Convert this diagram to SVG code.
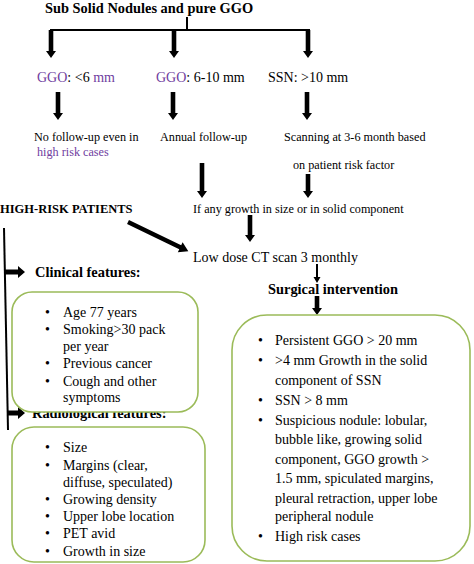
<svg xmlns="http://www.w3.org/2000/svg" width="474" height="564" viewBox="0 0 474 564">
<defs>
<style>
text{font-family:"Liberation Serif","Times New Roman",serif;fill:#000}
.b{font-weight:bold;font-size:14.4px}
.n{font-size:14px}
.s{font-size:12.2px}
.p{fill:#7040a0}
.box{fill:#fff;stroke:#9bbb59;stroke-width:1.6}
.ln{stroke:#000;stroke-width:2;fill:none}
.ar{fill:#000}
</style>
</defs>
<rect width="474" height="564" fill="#fff"/>

<g id="connectors">
<path class="ln" d="M187,17 V30 M50,30 H310"/>
<polygon class="ar" points="48.7,30 53.3,30 53.3,51 56,51 51,58 46,51 48.7,51"/>
<polygon class="ar" points="171.7,30 176.3,30 176.3,51 179,51 174,58 169,51 171.7,51"/>
<polygon class="ar" points="305.7,30 310.3,30 310.3,51 313,51 308,58 303,51 305.7,51"/>
<polygon class="ar" points="55.7,92 60.3,92 60.3,113 63,113 58,120 53,113 55.7,113"/>
<polygon class="ar" points="170.7,92 175.3,92 175.3,113 178,113 173,120 168,113 170.7,113"/>
<polygon class="ar" points="304.7,92 309.3,92 309.3,113 312,113 307,120 302,113 304.7,113"/>
<polygon class="ar" points="199.7,163 204.3,163 204.3,191 207,191 202,198 197,191 199.7,191"/>
<polygon class="ar" points="305.7,174 310.3,174 310.3,191 313,191 308,198 303,191 305.7,191"/>
<polygon class="ar" points="247.7,215 252.3,215 252.3,235 255,235 250,242 245,235 247.7,235"/>
<polygon class="ar" points="316,264 318,264 318,277 320.5,277 317,283 313.5,277 316,277"/>
<polygon class="ar" points="314.7,296 319.3,296 319.3,308 322,308 317,315 312,308 314.7,308"/>
<g transform="translate(128,222) rotate(25.8)">
<polygon class="ar" points="0,-2.2 58,-2.2 58,-5.5 67,0 58,5.5 58,2.2 0,2.2"/>
</g>
<line x1="4" y1="228" x2="8" y2="430" stroke="#000" stroke-width="2"/>
<polygon class="ar" points="5,269.5 18,269.5 18,266 25,272 18,278 18,274.5 5,274.5"/>
<polygon class="ar" points="7,410.5 18,410.5 18,407 25,413 18,419 18,415.5 7,415.5"/>
</g>

<g id="title"><text class="b" x="45" y="13">Sub Solid Nodules and pure GGO</text></g>

<g id="ggo-small"><text class="n" x="37" y="82"><tspan class="p">GGO</tspan>: &lt;6 <tspan class="p">mm</tspan></text></g>
<g id="ggo-mid"><text class="n" x="156" y="82"><tspan class="p">GGO</tspan>: 6-10 mm</text></g>
<g id="ssn"><text class="n" x="268" y="82">SSN:  &gt;10 mm</text></g>

<g id="no-followup">
<text class="s" x="34" y="141">No follow-up even in</text>
<text class="s p" x="37" y="156">high risk cases</text>
</g>
<g id="annual"><text class="s" x="160" y="141">Annual follow-up</text></g>
<g id="scanning">
<text class="s" x="284" y="141">Scanning at 3-6 month based</text>
<text class="s" x="293" y="169">on patient risk factor</text>
</g>

<g id="growth"><text class="s" x="193" y="213">If any growth in size or in solid component</text></g>
<g id="high-risk"><text class="b" x="0" y="213" style="font-size:12.5px">HIGH-RISK PATIENTS</text></g>
<g id="low-dose"><text class="n" x="193" y="262">Low dose CT scan 3 monthly</text></g>
<g id="surgical"><text class="b" x="268" y="294">Surgical intervention</text></g>

<g id="clinical-label"><text class="b" x="35" y="277">Clinical features:</text></g>
<g id="radiological-label"><text class="b" x="32" y="418">Radiological features:</text></g>

<g id="clinical-box">
<rect class="box" x="12" y="292" width="186" height="120" rx="20"/>
<text class="n" x="45" y="317">•</text><text class="n" x="63" y="317">Age 77 years</text>
<text class="n" x="45" y="334">•</text><text class="n" x="63" y="334">Smoking&gt;30 pack</text>
<text class="n" x="63" y="351">per year</text>
<text class="n" x="45" y="368">•</text><text class="n" x="63" y="368">Previous cancer</text>
<text class="n" x="45" y="386">•</text><text class="n" x="63" y="386">Cough and other</text>
<text class="n" x="63" y="402">symptoms</text>
</g>

<g id="radiological-box">
<rect class="box" x="12" y="427" width="193" height="135" rx="22"/>
<text class="n" x="45" y="452">•</text><text class="n" x="63" y="452">Size</text>
<text class="n" x="45" y="470">•</text><text class="n" x="63" y="470">Margins (clear,</text>
<text class="n" x="63" y="487">diffuse, speculated)</text>
<text class="n" x="45" y="504">•</text><text class="n" x="63" y="504">Growing density</text>
<text class="n" x="45" y="521">•</text><text class="n" x="63" y="521">Upper lobe location</text>
<text class="n" x="45" y="538">•</text><text class="n" x="63" y="538">PET avid</text>
<text class="n" x="45" y="556">•</text><text class="n" x="63" y="556">Growth in size</text>
</g>

<g id="surgical-box">
<rect class="box" x="232" y="315" width="238" height="246" rx="35"/>
<text class="n" x="258" y="345">•</text><text class="n" x="275" y="345">Persistent GGO &gt; 20 mm</text>
<text class="n" x="258" y="365">•</text><text class="n" x="275" y="365">&gt;4 mm Growth in the solid</text>
<text class="n" x="275" y="385">component of SSN</text>
<text class="n" x="258" y="405">•</text><text class="n" x="275" y="405">SSN &gt; 8 mm</text>
<text class="n" x="258" y="425">•</text><text class="n" x="275" y="425">Suspicious nodule: lobular,</text>
<text class="n" x="275" y="444">bubble like, growing solid</text>
<text class="n" x="275" y="464">component, GGO growth &gt;</text>
<text class="n" x="275" y="483">1.5 mm, spiculated margins,</text>
<text class="n" x="275" y="503">pleural retraction, upper lobe</text>
<text class="n" x="275" y="521">peripheral nodule</text>
<text class="n" x="258" y="541">•</text><text class="n" x="275" y="541">High risk cases</text>
</g>
</svg>
